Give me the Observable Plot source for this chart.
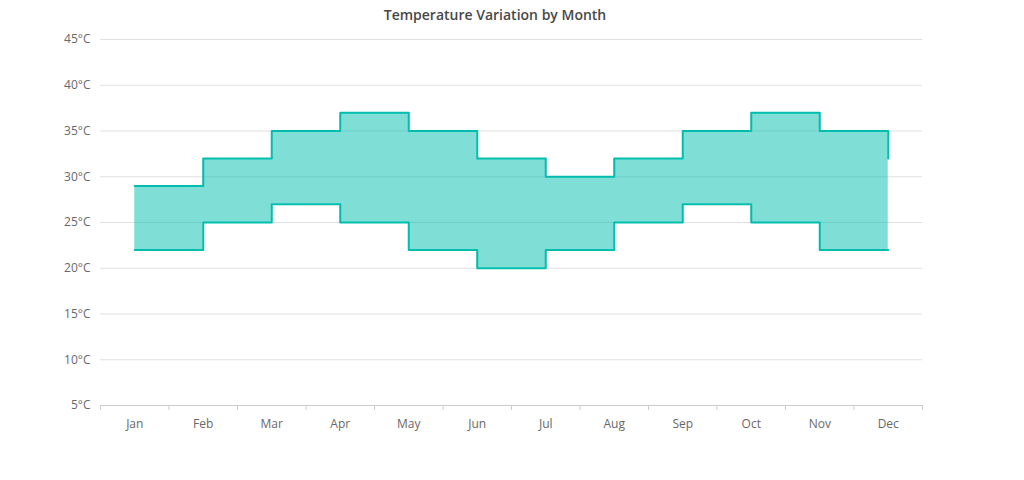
<!DOCTYPE html>
<html>
<head>
<meta charset="utf-8">
<script src="https://cdn.jsdelivr.net/npm/d3@7"></script>
<script src="https://cdn.jsdelivr.net/npm/@observablehq/plot@0.6"></script>
<style>
  body { margin: 0; background: #fff; font-family: "Open Sans", "Noto Sans", sans-serif; }
  #title { width: 990px; height: 30px; line-height: 30px; text-align: center; font-size: 14px; font-weight: 600; color: #484848; }
</style>
</head>
<body>
<div id="title">Temperature Variation by Month</div>
<div id="chart"></div>
<script>
const months = ["Jan","Feb","Mar","Apr","May","Jun","Jul","Aug","Sep","Oct","Nov","Dec"];
const high = [29, 32, 35, 37, 35, 32, 30, 32, 35, 37, 35, 32];
const low  = [22, 25, 27, 25, 22, 20, 22, 25, 27, 25, 22, 22];
const yTicks = [5, 10, 15, 20, 25, 30, 35, 40, 45];

const data = months.map((m, i) => ({i, month: m, high: high[i], low: low[i]}));
const idx = months.map((m, i) => i);
const bounds = d3.range(months.length + 1).map(k => k - 0.5);

const teal = "#00bdae";
const chart = Plot.plot({
  width: 1024,
  height: 450,
  marginTop: 9,
  marginBottom: 75,
  marginLeft: 100,
  marginRight: 102,
  style: {fontFamily: "'Open Sans', 'Noto Sans', sans-serif", fontSize: "12px", color: "#666"},
  x: {type: "linear", domain: [-0.5, months.length - 0.5]},
  y: {domain: [5, 45]},
  marks: [
    Plot.gridY(yTicks, {stroke: "#e0e0e0", strokeOpacity: 1}),
    Plot.axisY(yTicks, {tickSize: 0, tickPadding: 10, tickFormat: d => d + "°C", fill: "#686868", label: null}),
    Plot.areaY(data, {x: "i", y1: "low", y2: "high", curve: "step-after", fill: teal, fillOpacity: 0.5}),
    Plot.lineY(data, {x: "i", y: "high", curve: "step-after", stroke: teal, strokeWidth: 2}),
    Plot.lineY(data, {x: "i", y: "low", curve: "step-after", stroke: teal, strokeWidth: 2}),
    Plot.ruleY([5], {stroke: "#cccccc"}),
    Plot.axisX(bounds, {tickSize: 5, stroke: "#cccccc", tickFormat: () => "", label: null}),
    Plot.axisX(idx, {tickSize: 0, tickPadding: 14, tickFormat: i => months[i], fill: "#686868", label: null})
  ]
});
document.getElementById("chart").appendChild(chart);
</script>
</body>
</html>
